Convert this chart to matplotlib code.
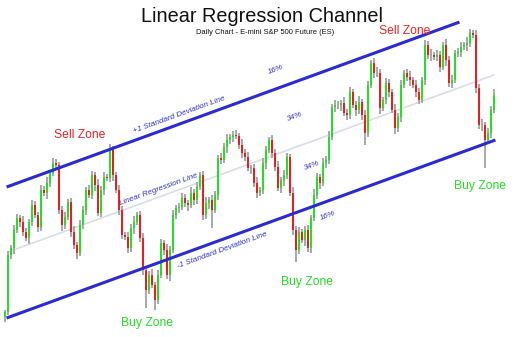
import numpy as np
import matplotlib
matplotlib.use('Agg')
from matplotlib import pyplot as plt

plt.rcParams['font.family'] = ['Liberation Sans', 'DejaVu Sans']

# daily closes of the E-mini S&P 500
closes = [1088, 1145, 1152, 1170, 1182, 1178, 1168, 1162, 1178, 1195,
          1185, 1173, 1210, 1207, 1217, 1227, 1237, 1235, 1190, 1175,
          1183, 1198, 1168, 1155, 1147, 1175, 1190, 1210, 1205, 1225,
          1215, 1187, 1210, 1223, 1222, 1250, 1225, 1210, 1190, 1165,
          1163, 1152, 1172, 1178, 1185, 1162, 1130, 1110, 1125, 1115,
          1100, 1125, 1157, 1150, 1125, 1150, 1185, 1192, 1193, 1202,
          1197, 1195, 1207, 1200, 1213, 1225, 1185, 1197, 1200, 1190,
          1205, 1242, 1240, 1253, 1260, 1263, 1265, 1264, 1255, 1247,
          1243, 1232, 1232, 1217, 1207, 1210, 1237, 1250, 1260, 1247,
          1233, 1212, 1220, 1225, 1243, 1207, 1170, 1150, 1168, 1160,
          1170, 1152, 1182, 1205, 1223, 1217, 1237, 1240, 1263, 1293,
          1295, 1295, 1297, 1287, 1285, 1308, 1295, 1290, 1298, 1285,
          1267, 1315, 1337, 1327, 1327, 1292, 1300, 1317, 1308, 1290,
          1272, 1283, 1315, 1327, 1323, 1320, 1315, 1308, 1300, 1320,
          1355, 1345, 1345, 1343, 1345, 1333, 1355, 1340, 1317, 1320,
          1347, 1348, 1353, 1355, 1357, 1367, 1365, 1312, 1275, 1275,
          1260, 1267, 1290, 1305]
first_open = 1083

# wick lengths above the body / below the body
up_wick = [2, 4, 3, 5, 4, 3, 6, 4, 3, 5, 4, 3, 5, 4, 6, 3, 5, 4, 3, 4,
           5, 3, 4, 6, 3, 5, 4, 3, 5, 4, 3, 6, 4, 5, 3, 6, 4, 3, 5, 4,
           3, 5, 4, 6, 3, 4, 5, 3, 4, 6, 3, 5, 4, 3, 6, 4, 5, 3, 4, 5,
           4, 3, 6, 4, 5, 3, 4, 6, 3, 5, 4, 3, 5, 4, 6, 3, 4, 5, 3, 6,
           4, 5, 3, 4, 6, 3, 5, 4, 3, 5, 4, 6, 3, 5, 4, 3, 6, 4, 5, 3,
           4, 5, 3, 6, 4, 3, 5, 4, 6, 3, 5, 4, 3, 6, 4, 5, 3, 4, 6, 3,
           5, 4, 3, 5, 6, 4, 3, 5, 4, 3, 6, 4, 5, 3, 4, 6, 3, 5, 4, 3,
           5, 4, 6, 3, 5, 4, 3, 6, 4, 5, 3, 4, 5, 3, 6, 4, 3, 5, 4, 6,
           3, 5, 4, 6]
down_wick = [5, 3, 4, 6, 3, 5, 4, 3, 6, 4, 3, 5, 4, 3, 6, 4, 3, 5, 4, 6,
             4, 3, 5, 4, 6, 3, 4, 5, 3, 4, 6, 3, 4, 5, 3, 4, 6, 3, 5, 4,
             3, 5, 4, 6, 3, 4, 5, 18, 4, 3, 10, 4, 3, 5, 4, 6, 3, 4, 5, 3,
             4, 6, 3, 5, 4, 3, 5, 4, 6, 18, 3, 5, 4, 3, 6, 4, 5, 3, 4, 5,
             4, 3, 6, 4, 5, 3, 4, 6, 3, 5, 4, 3, 5, 6, 4, 3, 5, 12, 4, 3,
             6, 4, 5, 3, 4, 6, 3, 5, 4, 3, 5, 4, 6, 3, 5, 4, 3, 6, 4, 5,
             12, 4, 3, 5, 4, 6, 3, 4, 5, 3, 6, 4, 5, 3, 4, 6, 3, 5, 4, 3,
             5, 4, 6, 3, 4, 5, 3, 6, 4, 5, 3, 4, 5, 3, 6, 4, 3, 5, 4, 6,
             28, 4, 5, 3]

# regression line (value at first and last bar) and the 1-sigma offset
reg_bars = [1, 163]
reg_values = [1148, 1325]
deviation = 65.5
upper_end_bar = 151

closes = np.array(closes, dtype=float)
opens = np.concatenate([[first_open], closes[:-1]])
highs = np.maximum(opens, closes) + np.array(up_wick)
lows = np.minimum(opens, closes) - np.array(down_wick)
x = np.arange(len(closes))

fig = plt.figure(figsize=(5.2, 3.37), dpi=100)
ax = fig.add_axes([0, 0, 1, 1])
ax.set_xlim(-5 / 3, 515 / 3)
ax.set_ylim(1063, 1400)
ax.axis('off')

ax.vlines(x, lows, highs, color='#a8a8a8', linewidth=1.4, zorder=2)
up = closes >= opens
ax.bar(x[up], (closes - opens)[up], bottom=opens[up], width=0.7,
       color='#22e022', linewidth=0, zorder=3)
ax.bar(x[~up], (closes - opens)[~up], bottom=opens[~up], width=0.7,
       color='#ee1c1c', linewidth=0, zorder=3)

slope = (reg_values[1] - reg_values[0]) / (reg_bars[1] - reg_bars[0])
xs = np.array(reg_bars, dtype=float)
ax.plot(xs, reg_values, color='#d8dee8', linewidth=1.2, zorder=1)
xu = np.array([reg_bars[0], upper_end_bar], dtype=float)
ax.plot(xu, reg_values[0] + slope * (xu - reg_bars[0]) + deviation,
        color='#2a2ad8', linewidth=2.2, zorder=4)
ax.plot(xs, np.array(reg_values) - deviation,
        color='#2a2ad8', linewidth=2.2, zorder=4)


def px(xp, yp):
    return xp / 520, 1 - yp / 337


fig.text(*px(262, 16), 'Linear Regression Channel', fontsize=14.3,
         ha='center', va='center', color='#111111')
fig.text(*px(265, 33), 'Daily Chart - E-mini S&P 500 Future (ES)',
         fontsize=5.4, ha='center', va='center', color='#111111')

for xp, yp in [(80, 135), (405, 31)]:
    fig.text(*px(xp, yp), 'Sell Zone', fontsize=8.7, ha='center',
             va='center', color='#ee2222')
for xp, yp in [(147, 323), (307, 282), (480, 186)]:
    fig.text(*px(xp, yp), 'Buy Zone', fontsize=8.7, ha='center',
             va='center', color='#22e022')

labels = [(179, 115, '+1 Standard Deviation Line'),
          (159, 190, 'Linear Regression Line'),
          (222, 250, '-1 Standard Deviation Line'),
          (276, 70, '16%'), (295, 117, '34%'),
          (312, 166, '34%'), (328, 216, '16%')]
for xp, yp, s in labels:
    fig.text(*px(xp, yp), s, fontsize=5.8, style='italic', ha='center',
             va='center', rotation=20, rotation_mode='anchor',
             color='#3030d0')

fig.savefig('out.png', dpi=100)
